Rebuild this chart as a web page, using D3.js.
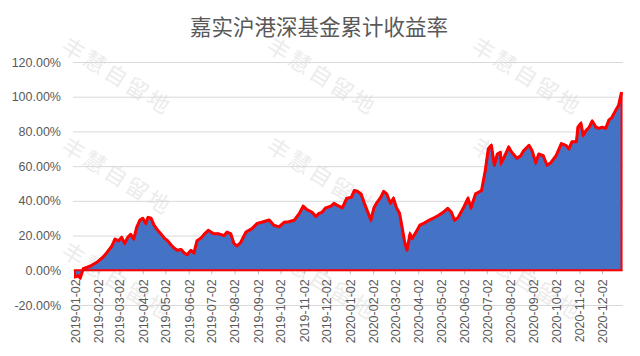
<!DOCTYPE html>
<html>
<head>
<meta charset="utf-8">
<script src="https://cdn.jsdelivr.net/npm/d3@7"></script>
<style>
  html, body { margin: 0; padding: 0; background: #fff; }
  svg { display: block; }
</style>
</head>
<body>
<svg id="chart" width="640" height="356"></svg>
<script>
const title = "嘉实沪港深基金累计收益率";
const watermarkText = "丰慧自留地";

const dates = [
  "2019-01-02","2019-01-06","2019-01-09","2019-01-13","2019-01-22","2019-01-31","2019-02-08","2019-02-13",
  "2019-02-20","2019-02-24","2019-03-01","2019-03-05","2019-03-09","2019-03-13","2019-03-17","2019-03-21",
  "2019-03-25","2019-03-29","2019-04-02","2019-04-06","2019-04-09","2019-04-13","2019-04-17","2019-04-22",
  "2019-04-26","2019-05-01","2019-05-05","2019-05-10","2019-05-14","2019-05-18","2019-05-23","2019-05-27",
  "2019-05-31","2019-06-05","2019-06-09","2019-06-13","2019-06-18","2019-06-23","2019-06-28","2019-07-05",
  "2019-07-12","2019-07-19","2019-07-23","2019-07-28","2019-08-01","2019-08-05","2019-08-10","2019-08-17",
  "2019-08-25","2019-09-01","2019-09-07","2019-09-17","2019-09-23","2019-09-30","2019-10-07","2019-10-13",
  "2019-10-20","2019-10-27","2019-11-01","2019-11-06","2019-11-13","2019-11-18","2019-11-22","2019-11-26",
  "2019-12-01","2019-12-08","2019-12-12","2019-12-16","2019-12-23","2019-12-29","2020-01-04","2020-01-08",
  "2020-01-12","2020-01-17","2020-01-21","2020-01-25","2020-01-30","2020-02-03","2020-02-07","2020-02-12",
  "2020-02-16","2020-02-20","2020-02-25","2020-02-29","2020-03-04","2020-03-08","2020-03-11","2020-03-15",
  "2020-03-18","2020-03-22","2020-03-25","2020-03-30","2020-04-04","2020-04-09","2020-04-16","2020-04-22",
  "2020-04-29","2020-05-05","2020-05-11","2020-05-16","2020-05-20","2020-05-25","2020-06-01","2020-06-07",
  "2020-06-11","2020-06-17","2020-06-21","2020-06-25","2020-06-30","2020-07-04","2020-07-08","2020-07-12",
  "2020-07-16","2020-07-20","2020-07-21","2020-07-27","2020-07-31","2020-08-04","2020-08-11","2020-08-16",
  "2020-08-20","2020-08-27","2020-08-31","2020-09-05","2020-09-09","2020-09-15","2020-09-20","2020-09-25",
  "2020-10-02","2020-10-09","2020-10-15","2020-10-19","2020-10-23","2020-10-29","2020-10-31","2020-11-04",
  "2020-11-07","2020-11-11","2020-11-15","2020-11-19","2020-11-24","2020-11-28","2020-12-02","2020-12-07",
  "2020-12-11","2020-12-15","2020-12-20","2020-12-24","2020-12-28"
];
const values = [
  -4.0,-3.0,-4.5,1.0,2.3,4.6,7.5,10.0,
  14.0,18.0,17.0,19.0,15.5,19.0,20.7,18.0,
  24.8,28.8,30.0,27.0,30.5,30.0,26.0,23.0,
  21.0,18.4,17.0,14.4,12.7,11.5,12.0,10.0,
  9.0,11.5,10.0,17.0,18.4,21.0,23.0,21.0,
  21.0,20.0,22.0,21.0,15.5,14.0,16.0,22.0,
  24.0,27.0,27.7,29.0,26.0,25.0,27.7,28.0,
  28.8,32.8,37.0,35.0,33.4,31.0,32.8,33.4,
  36.0,37.0,38.6,37.5,36.0,41.5,42.0,46.0,
  45.5,44.0,39.0,34.6,29.0,36.0,39.0,42.0,
  45.5,44.0,38.6,41.5,36.0,33.0,26.0,16.0,
  11.5,21.0,18.4,22.0,26.0,27.0,28.8,30.0,
  31.7,33.4,35.7,33.4,28.8,30.5,36.0,41.5,
  36.0,44.0,45.0,46.0,57.6,70.0,72.0,60.5,
  67.0,68.0,61.7,67.0,71.0,68.0,64.6,66.0,
  69.0,72.0,69.0,62.0,67.0,66.0,60.5,62.0,
  66.0,73.0,72.0,70.0,74.0,74.0,82.4,84.7,
  77.8,80.7,82.4,86.0,82.4,81.8,82.4,81.8,
  86.5,88.0,92.0,95.0,102.6
];
const yTicks = [-20, 0, 20, 40, 60, 80, 100, 120];
const xTickLabels = [
  "2019-01-02","2019-02-02","2019-03-02","2019-04-02","2019-05-02","2019-06-02",
  "2019-07-02","2019-08-02","2019-09-02","2019-10-02","2019-11-02","2019-12-02",
  "2020-01-02","2020-02-02","2020-03-02","2020-04-02","2020-05-02","2020-06-02",
  "2020-07-02","2020-08-02","2020-09-02","2020-10-02","2020-11-02","2020-12-02"
];

const parse = d3.timeParse("%Y-%m-%d");
const fmt = d3.timeFormat("%Y-%m-%d");
const data = dates.map((d, i) => ({ date: parse(d), value: values[i] }));

const svg = d3.select("#chart");
const plotLeft = 73, plotRight = 623;

const x = d3.scaleTime()
  .domain([parse(xTickLabels[0]), parse(xTickLabels[xTickLabels.length - 1])])
  .range([75, 602]);
const y = d3.scaleLinear().domain([-20, 120]).range([305, 62]);

const font = "'Liberation Sans', Arial, sans-serif";

// watermark (behind)
const wm = svg.append("g").attr("class", "watermark");
const wmPos = [[60, 50], [265, 50], [470, 50], [60, 150], [265, 150], [470, 150], [60, 255], [265, 255], [470, 255]];
wmPos.forEach(([wx, wy]) => {
  wm.append("text")
    .attr("transform", `translate(${wx},${wy}) rotate(32)`)
    .attr("font-family", "'Noto Sans CJK SC', sans-serif")
    .attr("font-size", 22)
    .attr("fill", "#ececec")
    .attr("letter-spacing", 3)
    .text(watermarkText);
});

// title
svg.append("text")
  .attr("x", 319).attr("y", 35)
  .attr("text-anchor", "middle")
  .attr("font-family", "'Noto Sans CJK SC', sans-serif")
  .attr("font-size", 21.5)
  .attr("fill", "#595959")
  .text(title);

// grid + y labels
const yAxis = d3.axisLeft(y)
  .tickValues(yTicks)
  .tickSize(-(plotRight - plotLeft))
  .tickPadding(12)
  .tickFormat(d => d.toFixed(2) + "%");
const gy = svg.append("g").attr("transform", `translate(${plotLeft},0)`).call(yAxis);
gy.select(".domain").remove();
gy.selectAll(".tick line").attr("stroke", "#d9d9d9").attr("stroke-width", 1);
gy.selectAll(".tick text")
  .attr("font-family", font).attr("font-size", 12.5).attr("fill", "#595959");

// x axis at zero
const xAxis = d3.axisBottom(x)
  .tickValues(xTickLabels.map(parse))
  .tickSize(4)
  .tickFormat(fmt);
const gx = svg.append("g").attr("transform", `translate(0,${y(0)})`).call(xAxis);
gx.select(".domain").attr("d", `M${plotLeft},0H${plotRight}`).attr("stroke", "#bfbfbf");
gx.selectAll(".tick line").attr("stroke", "#bfbfbf");
gx.selectAll(".tick text")
  .attr("font-family", font).attr("font-size", 12.5).attr("fill", "#595959")
  .attr("text-anchor", "end")
  .attr("transform", "rotate(-90)")
  .attr("x", -9).attr("y", 0).attr("dy", "0.35em");

// area
const area = d3.area()
  .x(d => x(d.date))
  .y0(y(0))
  .y1(d => y(d.value));
svg.append("path")
  .datum(data)
  .attr("d", area)
  .attr("fill", "#4472C4")
  .attr("stroke", "#FF0000")
  .attr("stroke-width", 2);

const line = d3.line()
  .x(d => x(d.date))
  .y(d => y(d.value));
svg.append("path")
  .datum(data)
  .attr("d", line)
  .attr("fill", "none")
  .attr("stroke", "#FF0000")
  .attr("stroke-width", 3)
  .attr("stroke-linejoin", "round");
</script>
</body>
</html>
